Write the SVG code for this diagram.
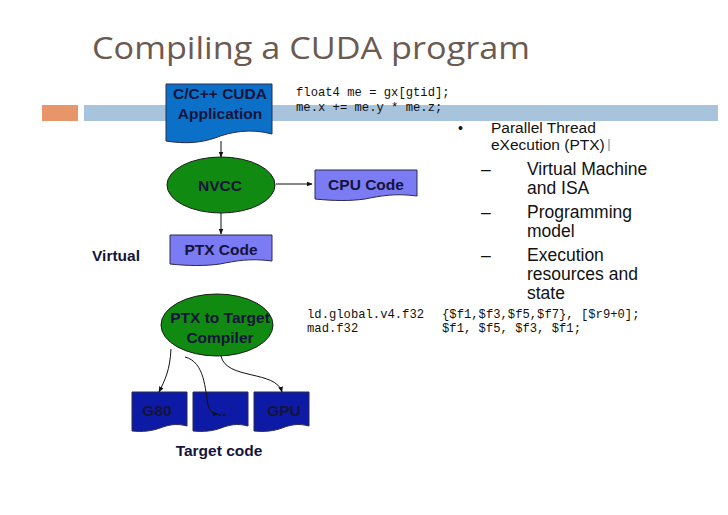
<svg xmlns="http://www.w3.org/2000/svg" width="728" height="515" viewBox="0 0 728 515">
<style>
.lbl{font-family:"Liberation Sans",Arial,sans-serif;font-weight:bold;font-size:15.5px;fill:#14143a;text-anchor:middle}
.code{font-family:"Liberation Mono","DejaVu Sans Mono",monospace;font-size:12.2px;fill:#111}
.bul{font-family:"Liberation Sans",Arial,sans-serif;fill:#111}
.doc{stroke:#2a2a50;stroke-width:1}
.ell{fill:#118a11;stroke:#1a1a1a;stroke-width:1}
.conn{fill:none;stroke:#111;stroke-width:1}
</style>
<defs>
<marker id="ah" viewBox="0 0 10 10" refX="9" refY="5" markerWidth="6" markerHeight="6" orient="auto">
<path d="M0,1 L10,5 L0,9 z" fill="#111"/>
</marker>
</defs>
<rect width="728" height="515" fill="#fff"/>
<text x="92" y="59" font-family="'Open Sans',Lato,sans-serif" font-size="31" fill="#6a5a52" textLength="438" lengthAdjust="spacingAndGlyphs">Compiling a CUDA program</text>
<rect x="42" y="105" width="36" height="16" fill="#e8956a"/>
<rect x="84" y="105" width="634" height="16" fill="#a8c4dc"/>

<g id="app">
<path class="doc" fill="#0b70c8" d="M166,84 H272 V134 C250,128 230,132 215,138 C200,143 185,144 166,141 Z"/>
<text class="lbl" x="220" y="99">C/C++ CUDA</text>
<text class="lbl" x="220" y="119">Application</text>
</g>

<g id="nvcc">
<ellipse class="ell" cx="221" cy="185" rx="54" ry="28"/>
<text class="lbl" x="220" y="191">NVCC</text>
</g>

<g id="cpu">
<path class="doc" fill="#7b7bf4" d="M315,170 H417 V196 C395,193 380,196 365,199 C350,201 335,201 315,199 Z"/>
<text class="lbl" x="366" y="190">CPU Code</text>
</g>

<g id="ptx">
<path class="doc" fill="#7b7bf4" d="M170,235 H272 V261 C250,258 235,261 220,264 C205,266 190,266 170,264 Z"/>
<text class="lbl" x="221" y="255">PTX Code</text>
</g>
<text class="lbl" x="116" y="261">Virtual</text>

<g id="compiler">
<ellipse class="ell" cx="217" cy="325" rx="56" ry="31"/>
<text class="lbl" x="220" y="323" font-size="16">PTX to Target</text>
<text class="lbl" x="220" y="343" font-size="17.5">Compiler</text>
</g>

<g id="g80">
<path class="doc" fill="#0d1aa6" d="M132,392 H187 V426 C176,423 168,425 160,428 C152,431 143,432 132,431 Z"/>
<text class="lbl" x="157" y="416">G80</text>
</g>
<g id="dots">
<path class="doc" fill="#0d1aa6" d="M193,392 H248 V426 C237,423 229,425 221,428 C213,431 204,432 193,431 Z"/>
<text class="lbl" x="218" y="416" style="text-anchor:start">..</text>
</g>
<g id="gpu">
<path class="doc" fill="#0d1aa6" d="M254,392 H309 V426 C298,423 290,425 282,428 C274,431 265,432 254,431 Z"/>
<text class="lbl" x="284" y="416">GPU</text>
</g>
<text class="lbl" x="219" y="456" font-size="17.5">Target code</text>

<g id="connectors">
<line class="conn" x1="221" y1="141" x2="221" y2="157" marker-end="url(#ah)"/>
<line class="conn" x1="276" y1="184" x2="312" y2="184" marker-end="url(#ah)"/>
<line class="conn" x1="221" y1="213" x2="221" y2="234" marker-end="url(#ah)"/>
<path class="conn" d="M171,349 C170,370 165,380 159,392" marker-end="url(#ah)"/>
<path class="conn" d="M185,357 C205,362 205,390 208,405 C210,412 213,414 218,414" marker-end="url(#ah)"/>
<path class="conn" d="M221,356 C226,380 276,370 282,392" marker-end="url(#ah)"/>
</g>

<text class="code" x="296" y="96">float4 me = gx[gtid];</text>
<text class="code" x="296" y="111">me.x += me.y * me.z;</text>
<text class="code" x="307" y="318">ld.global.v4.f32</text>
<text class="code" x="442" y="318">{$f1,$f3,$f5,$f7}, [$r9+0];</text>
<text class="code" x="307" y="332">mad.f32</text>
<text class="code" x="442" y="332">$f1, $f5, $f3, $f1;</text>

<g class="bul">
<text x="458" y="133" font-size="14">•</text>
<text x="491" y="133" font-size="15.5">Parallel Thread</text>
<text x="491" y="150" font-size="15.5">eXecution (PTX)</text>
<rect x="608" y="139" width="2" height="12" fill="#bbb"/>
<text x="481" y="175" font-size="17.5">–</text>
<text x="527" y="175" font-size="17.5">Virtual Machine</text>
<text x="527" y="194" font-size="17.5">and ISA</text>
<text x="481" y="218" font-size="17.5">–</text>
<text x="527" y="218" font-size="17.5">Programming</text>
<text x="527" y="237" font-size="17.5">model</text>
<text x="481" y="261" font-size="17.5">–</text>
<text x="527" y="261" font-size="17.5">Execution</text>
<text x="527" y="280" font-size="17.5">resources and</text>
<text x="527" y="299" font-size="17.5">state</text>
</g>
</svg>
